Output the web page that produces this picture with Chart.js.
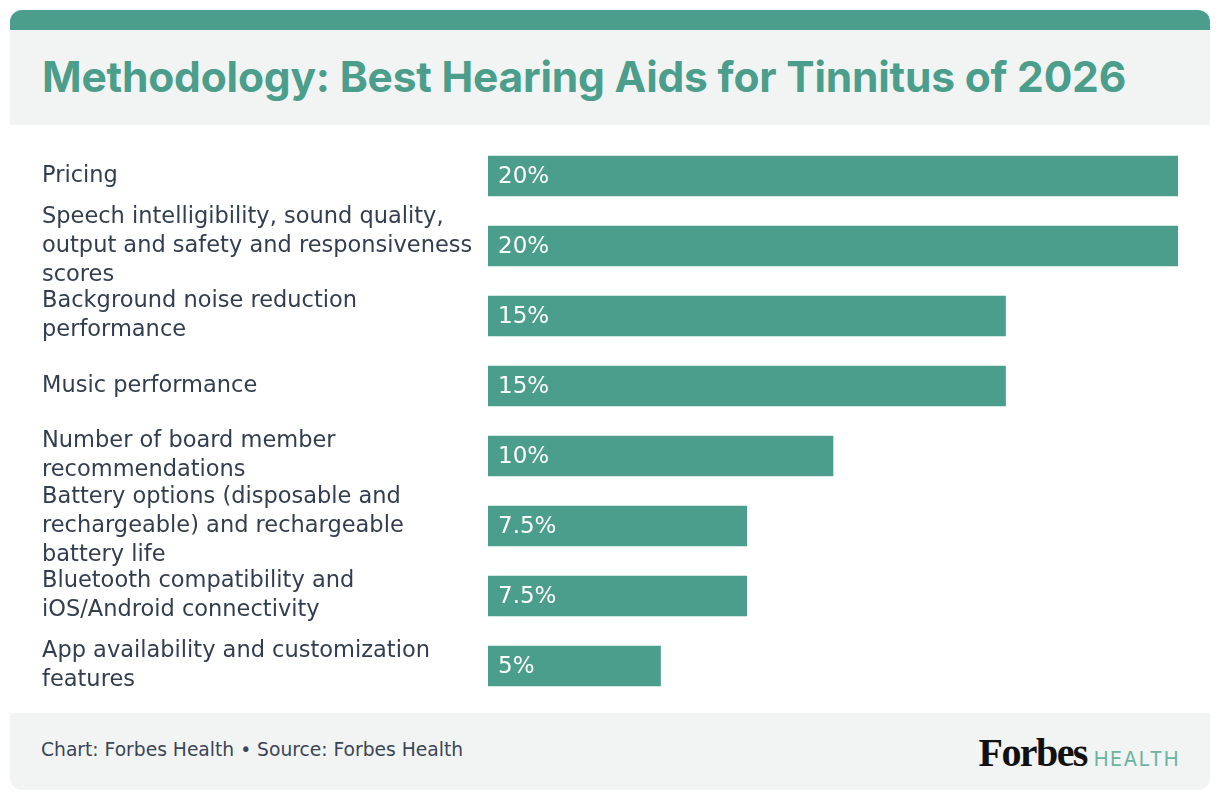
<!DOCTYPE html>
<html>
<head>
<meta charset="utf-8">
<script src="https://cdn.jsdelivr.net/npm/chart.js@4.4.1/dist/chart.umd.min.js"></script>
<style>
  html, body { margin: 0; padding: 0; background: #fff; }
  body { width: 1220px; height: 802px; position: relative; font-family: "DejaVu Sans", sans-serif; }
  .card { position: absolute; left: 10px; top: 10px; width: 1200px; height: 780px; }
  .strip { height: 20px; background: #4b9e8b; border-radius: 12px 12px 0 0; }
  .head { height: 95px; background: #f2f4f3; position: relative; }
  .head h1 { margin: 0; position: absolute; left: 32px; top: 21px; font-family: Inter, sans-serif;
             font-size: 42.5px; font-weight: 700; color: #4b9e8b; letter-spacing: -0.2px; white-space: nowrap; }
  .plot { position: relative; height: 588px; }
  .foot { height: 77px; background: #f2f4f3; border-radius: 0 0 12px 12px; position: relative; }
  .foot .src { position: absolute; left: 31px; top: 26px; font-size: 18.7px; color: #3a4556; }
  .logo { position: absolute; right: 30px; top: 16px; white-space: nowrap; }
  .logo .fb { font-family: "Liberation Serif", serif; font-weight: 700; font-size: 40px; color: #111;
              letter-spacing: -1.6px; display: inline-block; }
  .logo .hl { font-family: Inter, sans-serif; font-weight: 400; font-size: 20px; color: #6ab3a1;
              letter-spacing: 1.4px; margin-left: 7px; }
</style>
</head>
<body>
<div class="card">
  <div class="strip"></div>
  <div class="head"><h1>Methodology: Best Hearing Aids for Tinnitus of 2026</h1></div>
  <div class="plot"><canvas id="chart" width="1200" height="588"></canvas></div>
  <div class="foot">
    <div class="src">Chart: Forbes Health • Source: Forbes Health</div>
    <div class="logo"><span class="fb">Forbes</span><span class="hl">HEALTH</span></div>
  </div>
</div>
<script>
// categories (wrapped as in the graphic)
const criteria = [
  'Pricing',
  ['Speech intelligibility, sound quality,', 'output and safety and responsiveness', 'scores'],
  ['Background noise reduction', 'performance'],
  'Music performance',
  ['Number of board member', 'recommendations'],
  ['Battery options (disposable and', 'rechargeable) and rechargeable', 'battery life'],
  ['Bluetooth compatibility and', 'iOS/Android connectivity'],
  ['App availability and customization', 'features']
];
const weights = [20, 20, 15, 15, 10, 7.5, 7.5, 5];
const weightLabels = ['20%', '20%', '15%', '15%', '10%', '7.5%', '7.5%', '5%'];

const teal = '#4b9e8b';

// value text inside each bar
const barText = {
  id: 'barText',
  afterDatasetsDraw(chart) {
    const { ctx } = chart;
    const meta = chart.getDatasetMeta(0);
    ctx.save();
    ctx.fillStyle = '#ffffff';
    ctx.font = '400 23px "DejaVu Sans", sans-serif';
    ctx.textBaseline = 'middle';
    ctx.textAlign = 'left';
    meta.data.forEach((bar, i) => {
      ctx.fillText(weightLabels[i], bar.base + 10, bar.y + 1);
    });
    ctx.restore();
  }
};

new Chart(document.getElementById('chart'), {
  type: 'bar',
  data: {
    labels: criteria,
    datasets: [{
      data: weights,
      backgroundColor: teal,
      borderWidth: 0,
      barThickness: 40
    }]
  },
  options: {
    indexAxis: 'y',
    responsive: false,
    animation: false,
    layout: { padding: { left: 32, right: 32, top: 16, bottom: 12 } },
    plugins: { legend: { display: false }, tooltip: { enabled: false } },
    scales: {
      x: { display: false, min: 0, max: 20 },
      y: {
        grid: { display: false },
        border: { display: false },
        afterFit(scale) {
          scale.width = 446;
          scale.paddingTop = 0;
          scale.paddingBottom = 0;
        },
        ticks: {
          autoSkip: false,
          crossAlign: 'far',
          padding: 0,
          color: '#323e4f',
          font: { family: '"DejaVu Sans", sans-serif', size: 22.5, lineHeight: 1.29 }
        }
      }
    }
  },
  plugins: [barText]
});
</script>
</body>
</html>
